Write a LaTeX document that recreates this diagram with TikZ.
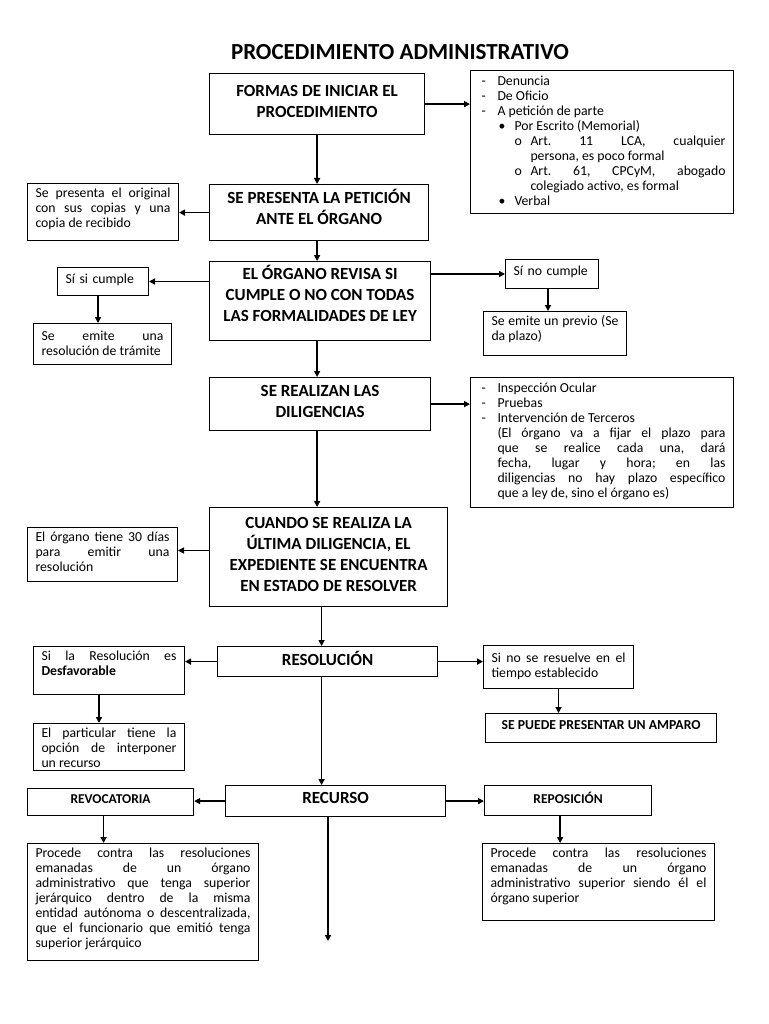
\documentclass[tikz,border=0pt]{standalone}
\usepackage{fontspec}
\setmainfont{Carlito}
\usepackage{enumitem}
\usetikzlibrary{arrows.meta}
\hyphenpenalty=10000
\tolerance=9999
\frenchspacing

\begin{document}
\begin{tikzpicture}[x=1pt, y=-1pt, subir/.style={execute at end node={\rule[-#1]{0pt}{#1}}}, paso/.style={draw, line width=1.2pt, anchor=north west, align=center, font=\bfseries\fontsize{17}{21}\selectfont, subir=6pt}, nota/.style 2 args={draw, line width=1pt, anchor=north west, align=justify, inner xsep=8pt, inner ysep=3pt, font=\fontsize{13.75}{15}\selectfont, text width=#1, text height=11pt, text depth=#2}, lista/.style={text height=1pt, execute at begin node=\vspace*{-4pt}}, flecha/.style={-{Triangle[length=6pt,width=6pt]}, line width=1.5pt}]
  \useasboundingbox (0,0) rectangle (768,1024);
  \node (titulo) at (400,52) {\bfseries\fontsize{23}{27}\selectfont PROCEDIMIENTO ADMINISTRATIVO};
  \node[paso, minimum width=215pt, minimum height=61pt] (inicio) at (209,73) {FORMAS DE INICIAR EL\\PROCEDIMIENTO};
  \node[nota={247pt}{136pt}, lista] (formas) at (470,70) {\begin{itemize}[label=-, leftmargin=19pt, labelwidth=8pt, labelsep=8pt, align=left, nosep]
    \item Denuncia
    \item De Oficio
    \item A petición de parte
    \begin{itemize}[label=\textbullet, leftmargin=17pt, labelwidth=8pt, labelsep=8pt, align=left, nosep]
      \item Por Escrito (Memorial)
      \begin{itemize}[label=o, leftmargin=16pt, labelwidth=8pt, labelsep=8pt, align=left, nosep]
        \item Art. 11 LCA, cualquier\linebreak persona, es poco formal
        \item Art. 61, CPCyM, abogado\linebreak colegiado activo, es formal
      \end{itemize}
      \item Verbal
    \end{itemize}
  \end{itemize}};
  \node[paso, minimum width=219pt, minimum height=56pt, subir=12pt] (peticion) at (209,184) {SE PRESENTA LA PETICIÓN\\ANTE EL ÓRGANO};
  \node[nota={135pt}{40pt}] (original) at (27,183) {Se presenta el original\linebreak con sus copias y una\linebreak copia de recibido};
  \node[paso, minimum width=221pt, minimum height=78pt, subir=16pt] (revisa) at (209,261) {EL ÓRGANO REVISA SI\\CUMPLE O NO CON TODAS\\LAS FORMALIDADES DE LEY};
  \node[nota={75pt}{9pt}, text height=13pt, align=left] (sicumple) at (57,267) {Sí si cumple};
  \node[nota={122pt}{21pt}, text height=14pt] (tramite) at (33,323) {Se emite una\linebreak resolución de trámite};
  \node[nota={77pt}{10pt}, text height=13pt, align=left] (nocumple) at (505,259) {Sí no cumple};
  \node[nota={127pt}{27pt}] (previo) at (483,311) {Se emite un previo (Se\linebreak da plazo)};
  \node[paso, minimum width=221pt, minimum height=53pt] (diligencias) at (209,377) {SE REALIZAN LAS\\DILIGENCIAS};
  \node[nota={247pt}{123pt}, lista] (pruebas) at (470,377) {\begin{itemize}[label=-, leftmargin=19pt, labelwidth=8pt, labelsep=8pt, align=left, nosep]
    \item Inspección Ocular
    \item Pruebas
    \item Intervención de Terceros\\(El órgano va a fijar el plazo para\linebreak que se realice cada una, dará\linebreak fecha, lugar y hora; en las\linebreak diligencias no hay plazo específico\linebreak que a ley de, sino el órgano es)
  \end{itemize}};
  \node[paso, minimum width=238pt, minimum height=99pt] (resolver) at (209,507) {CUANDO SE REALIZA LA\\ÚLTIMA DILIGENCIA, EL\\EXPEDIENTE SE ENCUENTRA\\EN ESTADO DE RESOLVER};
  \node[nota={134pt}{37pt}] (plazo) at (27,527) {El órgano tiene 30 días\linebreak para emitir una\linebreak resolución};
  \node[paso, minimum width=220pt, minimum height=30pt] (resolucion) at (217,646) {RESOLUCIÓN};
  \node[nota={135pt}{31pt}] (desfavorable) at (33,646) {Si la Resolución es\linebreak \textbf{Desfavorable}};
  \node[nota={135pt}{30pt}] (particular) at (33,723) {El particular tiene la\linebreak opción de interponer\linebreak un recurso};
  \node[nota={134pt}{23pt}, text height=14pt] (establecido) at (483,645) {Si no se resuelve en el\linebreak tiempo establecido};
  \node[paso, minimum width=231pt, minimum height=29pt, font=\bfseries\fontsize{13.7}{16}\selectfont] (amparo) at (485,713) {SE PUEDE PRESENTAR UN AMPARO};
  \node[paso, minimum width=220pt, minimum height=31pt] (recurso) at (225,785) {RECURSO};
  \node[paso, minimum width=166pt, minimum height=27pt, font=\bfseries\fontsize{13.5}{15}\selectfont] (revocatoria) at (27,788) {REVOCATORIA};
  \node[paso, minimum width=167pt, minimum height=30pt, font=\bfseries\fontsize{13.5}{15}\selectfont] (reposicion) at (484,785) {REPOSICIÓN};
  \node[nota={215pt}{100pt}] (revtexto) at (27,843) {Procede contra las resoluciones\linebreak emanadas de un órgano\linebreak administrativo que tenga superior\linebreak jerárquico dentro de la misma\linebreak entidad autónoma o descentralizada,\linebreak que el funcionario que emitió tenga\linebreak superior jerárquico};
  \node[nota={216pt}{60pt}] (reptexto) at (482,843) {Procede contra las resoluciones\linebreak emanadas de un órgano\linebreak administrativo superior siendo él el\linebreak órgano superior};
  \coordinate (fin) at (328,941);
  \draw[flecha] (inicio.east) -- (inicio.east -| formas.west);
  \draw[flecha] (inicio.south) -- (inicio.south |- peticion.north);
  \draw[flecha] (peticion.west) -- (peticion.west -| original.east);
  \draw[flecha] (peticion.south -| inicio.south) -- (revisa.north -| inicio.south);
  \draw[flecha] (sicumple -| revisa.west) -- (sicumple.east);
  \draw[flecha] ([xshift=-5pt]sicumple.south) -- ([xshift=-5pt]sicumple.south |- tramite.north);
  \draw[flecha] (nocumple -| revisa.east) -- (nocumple.west);
  \draw[flecha] ([xshift=-4pt]nocumple.south) -- ([xshift=-4pt]nocumple.south |- previo.north);
  \draw[flecha] (revisa.south -| inicio.south) -- (diligencias.north -| inicio.south);
  \draw[flecha] (diligencias.east) -- (diligencias.east -| pruebas.west);
  \draw[flecha] (diligencias.south -| inicio.south) -- (resolver.north -| inicio.south);
  \draw[flecha] ([yshift=4pt]plazo -| resolver.west) -- ([yshift=4pt]plazo.east);
  \draw[flecha] ([xshift=-6pt]resolucion.north |- resolver.south) -- ([xshift=-6pt]resolucion.north);
  \draw[flecha] (resolucion.west) -- (resolucion.west -| desfavorable.east);
  \draw[flecha] (resolucion.east) -- (resolucion.east -| establecido.west);
  \draw[flecha] ([xshift=-10pt]desfavorable.south) -- ([xshift=-10pt]desfavorable.south |- particular.north);
  \draw[flecha] (establecido.south) -- (establecido.south |- amparo.north);
  \draw[flecha] ([xshift=-6pt]resolucion.south) -- ([xshift=-6pt]resolucion.south |- recurso.north);
  \draw[flecha] (recurso.west) -- (recurso.west -| revocatoria.east);
  \draw[flecha] (recurso.east) -- (recurso.east -| reposicion.west);
  \draw[flecha] ([xshift=-7pt]revocatoria.south) -- ([xshift=-7pt]revocatoria.south |- revtexto.north);
  \draw[flecha] ([xshift=-8pt]reposicion.south) -- ([xshift=-8pt]reposicion.south |- reptexto.north);
  \draw[flecha] (fin |- recurso.south) -- (fin);
\end{tikzpicture}
\end{document}
